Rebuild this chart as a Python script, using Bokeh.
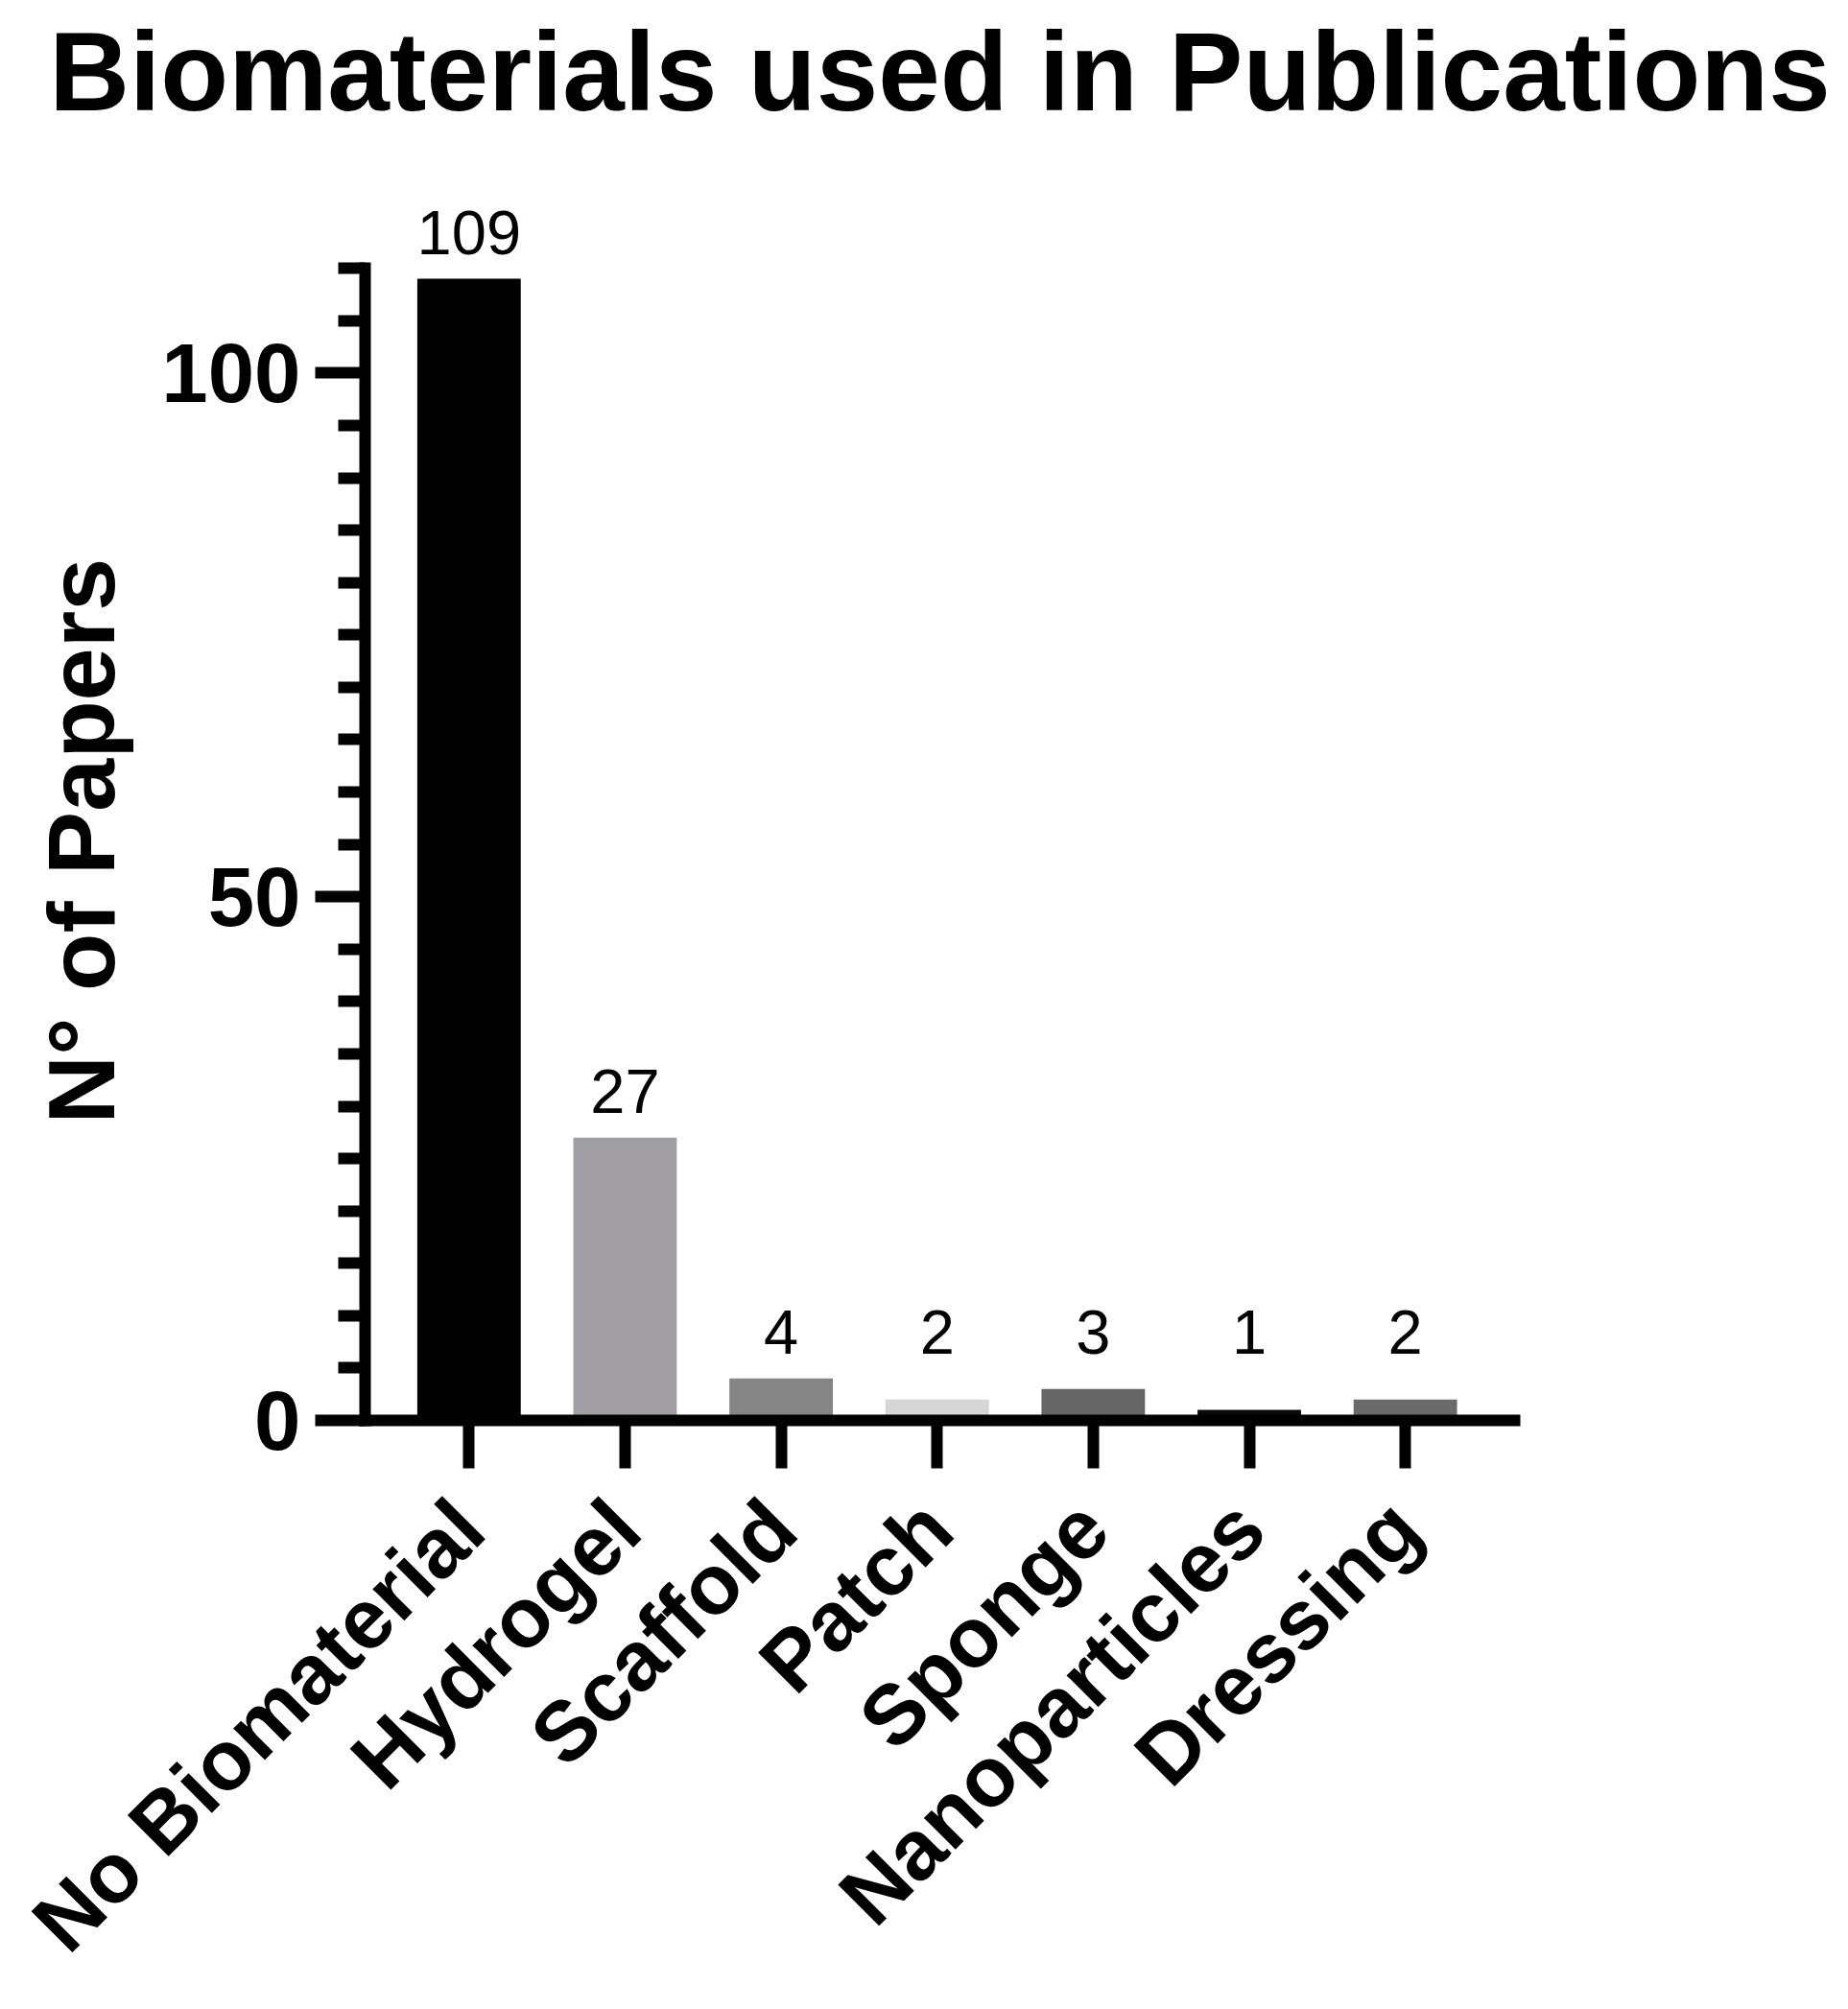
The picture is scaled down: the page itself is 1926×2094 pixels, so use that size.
import math
from bokeh.plotting import figure
from bokeh.models import ColumnDataSource, FixedTicker, Range1d, Title, LabelSet
from bokeh.core.properties import value
from bokeh.embed import file_html
from bokeh.resources import INLINE

# ---- data ----
categories = ["No Biomaterial", "Hydrogel", "Scaffold", "Patch", "Sponge", "Nanoparticles", "Dressing"]
papers = [109, 27, 4, 2, 3, 1, 2]
bar_colors = ["#000000", "#a09ea3", "#858585", "#d6d6d6", "#656565", "#0a0a0a", "#6a6a6a"]
y_major_ticks = [0, 50, 100]
y_minor_ticks = [5, 10, 15, 20, 25, 30, 35, 40, 45, 55, 60, 65, 70, 75, 80, 85, 90, 95, 105, 110]
y_axis_max = 110

FONT = "Liberation Sans"

xpos = list(range(len(categories)))
src = ColumnDataSource(dict(
    x=xpos,
    top=papers,
    color=bar_colors,
    label=[str(v) for v in papers],
    label_y=[max(v, 4) for v in papers],
))

p = figure(
    width=1918, height=2090,
    x_range=Range1d(-0.666, 6.70), y_range=Range1d(0, 122.2),
    output_backend="svg", toolbar_location=None, tools="",
    min_border_left=379, min_border_right=340, min_border_top=146, min_border_bottom=600,
)
p.title = Title(text="Biomaterials used in Publications", align="center",
                text_font=FONT, text_font_size="116px", text_font_style="bold",
                text_color="#000000", standoff=14)

p.vbar(x="x", top="top", bottom=0, width=0.663, fill_color="color", line_color=None, source=src)

labels = LabelSet(x="x", y="label_y", text="label", source=src, text_align="center",
                  text_baseline="alphabetic", y_offset=26, text_font=value(FONT),
                  text_font_size="65px", text_color="#000000")
p.add_layout(labels)

p.xgrid.visible = False
p.ygrid.visible = False
p.outline_line_color = None
p.background_fill_color = "white"
p.border_fill_color = "white"

# y axis
ya = p.yaxis[0]
ya.bounds = (0, y_axis_max)
ya.ticker = FixedTicker(ticks=y_major_ticks, minor_ticks=y_minor_ticks)
ya.axis_line_width = 12
ya.axis_line_cap = "square"
ya.major_tick_line_width = 12
ya.minor_tick_line_width = 12
ya.major_tick_out = 52
ya.major_tick_in = 0
ya.minor_tick_out = 28
ya.minor_tick_in = 0
ya.major_label_standoff = 15
ya.major_label_text_font = FONT
ya.major_label_text_font_size = "87px"
ya.major_label_text_font_style = "bold"
ya.major_label_text_color = "#000000"

# y axis title (placed beside the axis, centred on the 0-110 span)
p.add_layout(Title(text="N° of Papers", align="left", offset=309,
                   text_font=FONT, text_font_size="99px", text_font_style="bold",
                   text_color="#000000", standoff=52), "left")

# x axis
xa = p.xaxis[0]
xa.ticker = FixedTicker(ticks=xpos, minor_ticks=[])
xa.major_label_overrides = {i: c for i, c in zip(xpos, categories)}
xa.axis_line_width = 12
xa.axis_line_cap = "square"
xa.major_tick_line_width = 12
xa.major_tick_out = 50
xa.major_tick_in = 0
xa.minor_tick_out = 0
xa.minor_tick_in = 0
xa.major_label_orientation = math.pi / 4
xa.major_label_standoff = 48
xa.major_label_text_font = FONT
xa.major_label_text_font_size = "88px"
xa.major_label_text_font_style = "bold"
xa.major_label_text_color = "#000000"

open("out.html", "w").write(file_html(p, INLINE))
